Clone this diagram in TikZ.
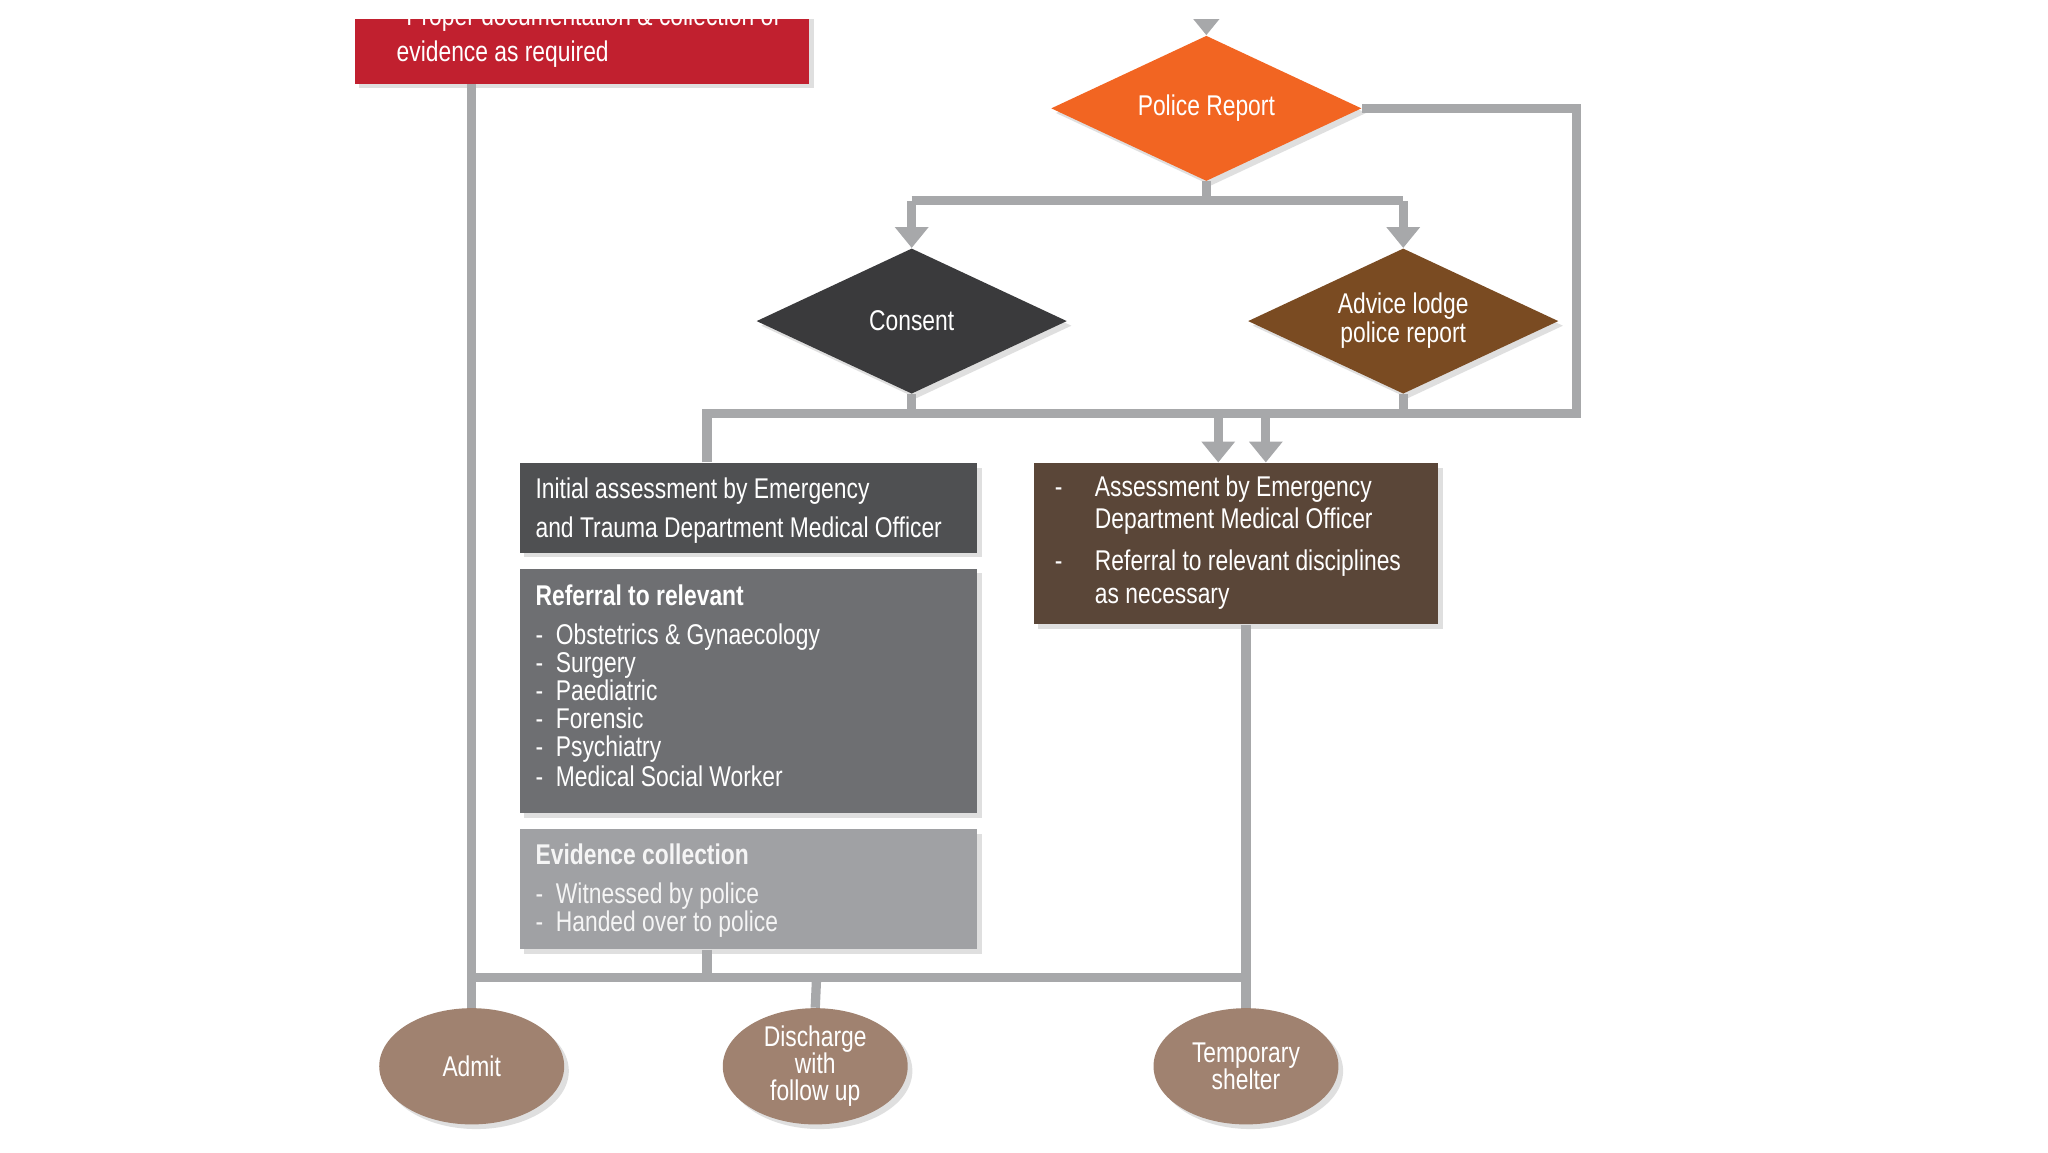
\documentclass[tikz,border=0pt]{standalone}
\usepackage{fontspec}
\setmainfont{Liberation Sans}[FakeStretch=0.8]
\usetikzlibrary{shapes.geometric,shadows,arrows.meta}
\definecolor{ln}{HTML}{A7A8AA}
\definecolor{redb}{HTML}{C1202F}
\definecolor{orng}{HTML}{F26522}
\definecolor{dk}{HTML}{3A3A3C}
\definecolor{brn}{HTML}{7A4B22}
\definecolor{b1}{HTML}{4F5052}
\definecolor{b2}{HTML}{6E6F72}
\definecolor{b3}{HTML}{A0A1A4}
\definecolor{rb}{HTML}{5A4638}
\definecolor{ell}{HTML}{A08270}
\begin{document}
\begin{tikzpicture}[x=0.02cm,y=-0.02cm,
  every node/.style={font=\fontsize{12.3}{14}\selectfont, text=white},
  conn/.style={draw=ln,line width=4pt},
  arr/.style={conn,-{Triangle[length=9pt,width=14pt]}},
  shad/.style={drop shadow={shadow xshift=2pt,shadow yshift=-2pt,fill=black!25,opacity=.5}},
  dia/.style={diamond,aspect=2.14,minimum width=4.7cm,minimum height=2.2cm,inner sep=0pt,shad},
  box/.style={rectangle,anchor=north west,inner sep=0pt,shad},
  ov/.style={ellipse,fill=ell,minimum width=2.8cm,minimum height=1.76cm,inner sep=0pt,shad,align=center,font=\fontsize{12.3}{11.5}\selectfont}]
\useasboundingbox (0,0) rectangle (1550,872);
\begin{scope}
\clip (0,15) rectangle (1550,872);
\coordinate (top) at (913,0);
\coordinate (pb) at (913,152);
\coordinate (cl) at (690,152);
\coordinate (cr) at (1062,152);
\coordinate (r1) at (1193,82);
\coordinate (r2) at (1193,313);
\coordinate (r3) at (958,313);
\coordinate (m1) at (535,313);
\coordinate (m2) at (922,313);
\coordinate (bl) at (357,740);
\coordinate (br) at (943,740);
\coordinate (bm) at (618,740);
\coordinate (bc) at (535,740);

\node[box,fill=redb,minimum width=344*0.02cm,minimum height=90*0.02cm] (red) at (268,-27) {};
\node[anchor=west] (redt1) at (286,14) {-\ \ Proper documentation \& collection of};
\node[anchor=west] (redt2) at (294,41) {evidence as required};

\node[dia,fill=orng] (police) at (913,82) {Police Report};
\node[dia,fill=dk] (consent) at (690,243) {Consent};
\node[dia,fill=brn,align=center,font=\fontsize{12.3}{10.5}\selectfont] (advice) at (1062,243) {Advice lodge\\police report};

\node[box,fill=b1,minimum width=346*0.02cm,minimum height=68*0.02cm] (b1) at (393,350) {};
\node[anchor=north west,align=left,inner sep=0pt] (b1t) at (405,361) {Initial assessment by Emergency\\[3pt]and Trauma Department Medical Officer};
\node[box,fill=b2,minimum width=346*0.02cm,minimum height=185*0.02cm] (b2) at (393,430) {};
\node[anchor=north west,align=left,inner sep=0pt] (b2t) at (405,442) {\textbf{Referral to relevant}\\[3pt]
-\ \ Obstetrics \& Gynaecology\\[-2pt] -\ \ Surgery\\[-2pt] -\ \ Paediatric\\[-2pt] -\ \ Forensic\\[-2pt] -\ \ Psychiatry\\[-1pt] -\ \ Medical Social Worker};
\node[box,fill=b3,minimum width=346*0.02cm,minimum height=91*0.02cm] (b3) at (393,627) {};
\node[anchor=north west,align=left,inner sep=0pt,text=white!92!gray] (b3t) at (405,638) {\textbf{Evidence collection}\\[3pt]
-\ \ Witnessed by police\\[-2pt] -\ \ Handed over to police};
\node[box,fill=rb,minimum width=306*0.02cm,minimum height=122*0.02cm] (rbox) at (782,350) {};
\node[anchor=north west,align=left,inner sep=0pt] (rt) at (798,358) {\begin{tabular}{@{}l@{\hspace{14pt}}l@{}}
-&Assessment by Emergency\\ &Department Medical Officer\\[4pt]
-&Referral to relevant disciplines\\ &as necessary\end{tabular}};

\node[ov] (admit) at (357,807) {Admit};
\node[ov] (dis) at (617,807) {Discharge\\with\\follow up};
\node[ov] (temp) at (943,807) {Temporary\\shelter};

\draw[arr] (top) -- (police.north);
\draw[conn] (police.south) -- (pb);
\draw[conn] (cl) -- (cr);
\draw[arr] (cl) -- (consent.north);
\draw[arr] (cr) -- (advice.north);
\draw[conn] (police.east) -- (r1) -- (r2) -- (r3);
\draw[arr] (r3) -- (r3|-rbox.north);
\draw[conn] (consent.south) -- (consent.south|-m1);
\draw[conn] (advice.south) -- (advice.south|-m1);
\draw[conn] (m1|-b1.north) -- (m1) -- (m2) -- (r3);
\draw[arr] (m2) -- (m2|-rbox.north);
\draw[conn] (b3.south-|bc) -- (bc);
\draw[conn] (bl) -- (br);
\draw[conn] (red.south-|bl) -- (admit.north);
\draw[conn] (bm) -- (dis.north);
\draw[conn] (rbox.south-|br) -- (temp.north);
\end{scope}
\end{tikzpicture}
\end{document}
